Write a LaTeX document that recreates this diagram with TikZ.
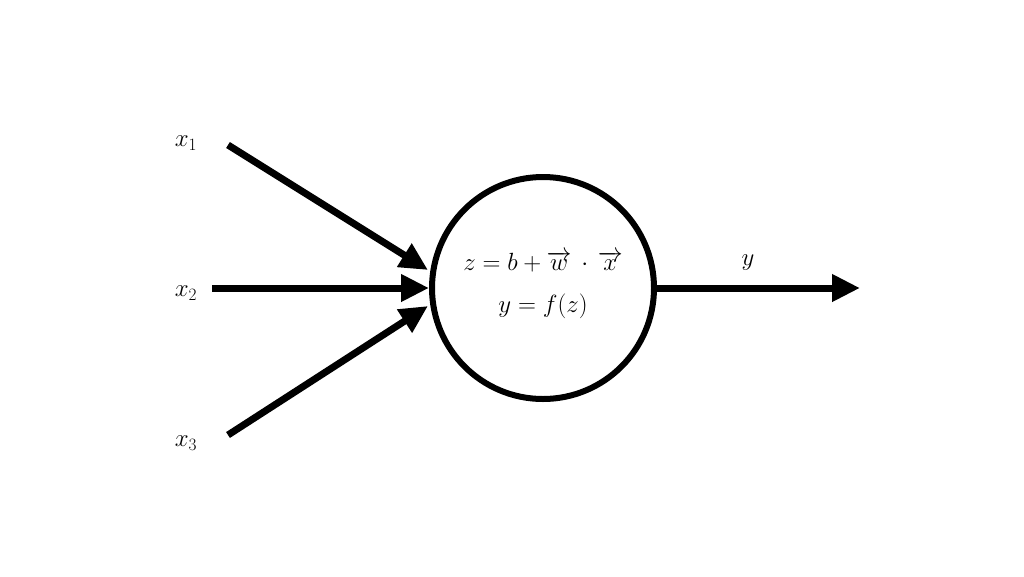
\documentclass[tikz,border=0pt]{standalone}
\usetikzlibrary{arrows.meta}
\begin{document}
\begin{tikzpicture}[x=1pt, y=-1pt, line width=7pt,
  wire/.style={-{Triangle[length=28pt,width=26pt]}},
  lbl/.style={font=\fontsize{26}{30}\selectfont}]
\useasboundingbox (0,0) rectangle (1024,576);
\node[draw, circle, minimum size=222pt, line width=6pt] (neuron) at (543,288) {};
\node[lbl] (eqz) at (543,262) {$z = b + \overrightarrow{w}\,\cdot\,\overrightarrow{x}$};
\node[lbl] (eqy) at (543,306) {$y = f(z)$};
\coordinate (s1) at (228,145);
\coordinate (s2) at (212,288);
\coordinate (s3) at (228,435);
\coordinate (t1) at (428,270);
\coordinate (t3) at (428,306);
\coordinate (out) at (860,288);
\node[lbl] (x1) at (186,143) {$x_1$};
\node[lbl] (x2) at (186,293) {$x_2$};
\node[lbl] (x3) at (186,443) {$x_3$};
\node[lbl] (ylab) at (748,263) {$y$};
\draw[wire] (s1) -- (t1);
\draw[wire] (s2) -- (neuron.west);
\draw[wire] (s3) -- (t3);
\draw[wire] (neuron.east) -- (out);
\end{tikzpicture}
\end{document}
